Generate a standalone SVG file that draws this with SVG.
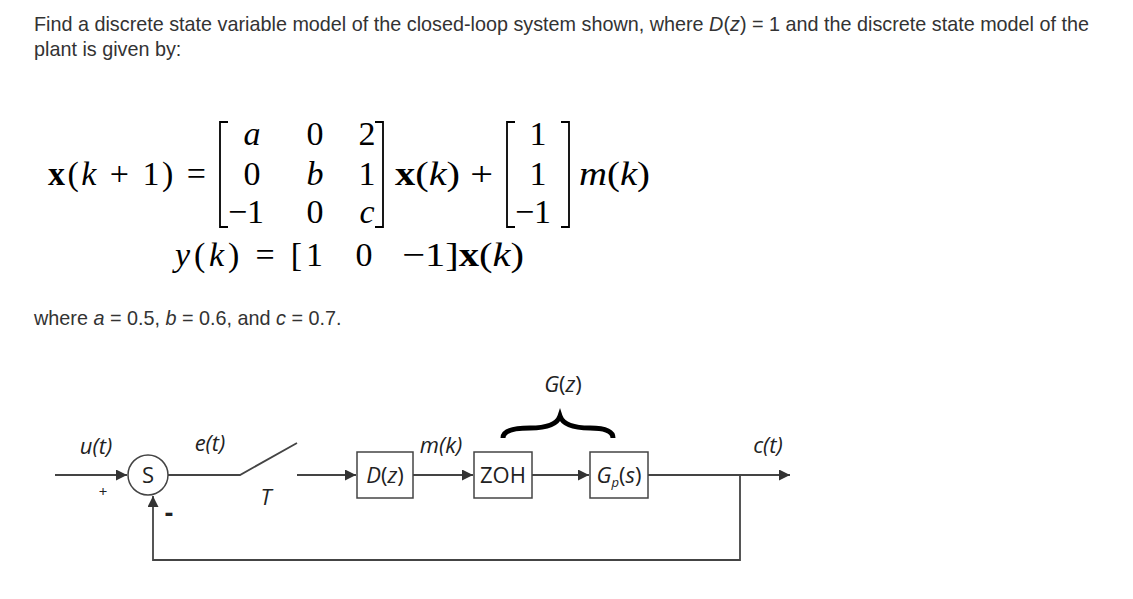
<svg xmlns="http://www.w3.org/2000/svg" width="1133" height="599" viewBox="0 0 1133 599">
<defs>
<marker id="ah" viewBox="0 0 10 10" refX="10" refY="5" markerWidth="11" markerHeight="11" markerUnits="userSpaceOnUse" orient="auto"><path d="M0,0 L10,5 L0,10 z" fill="#333"/></marker>
<style>
.p{font-family:"Liberation Sans",Arial,sans-serif;font-size:19.8px;fill:#333}
.m{font-family:"Liberation Serif","DejaVu Serif",serif;font-size:34px;fill:#000}
.i{font-style:italic}
.d{font-family:"Open Sans","Liberation Sans",sans-serif;font-size:22px;fill:#222}
.b{fill:#fff;stroke:#444;stroke-width:1.5}
.l{fill:none;stroke:#444;stroke-width:1.8}
.br{fill:none;stroke:#000;stroke-width:1.8}
</style>
</defs>
<rect width="1133" height="599" fill="#fff"/>
<text class="p" x="34" y="31">Find a discrete state variable model of the closed-loop system shown, where <tspan class="i">D</tspan>(<tspan class="i">z</tspan>) = 1 and the discrete state model of the</text>
<text class="p" x="34" y="56">plant is given by:</text>
<text class="p" x="34" y="325">where <tspan class="i">a</tspan> = 0.5, <tspan class="i">b</tspan> = 0.6, and <tspan class="i">c</tspan> = 0.7.</text>
<g id="equation">
<text class="m" x="48" y="185" textLength="158" lengthAdjust="spacing"><tspan font-weight="bold">x</tspan>(<tspan class="i">k</tspan> + 1) =</text>
<path class="br" d="M228,122 h-8 v105 h8 M375,122 h8 v105 h-8"/>
<text class="m" text-anchor="middle"><tspan class="i" x="252" y="145">a</tspan><tspan x="315" y="145">0</tspan><tspan x="367" y="145">2</tspan><tspan x="252" y="185">0</tspan><tspan class="i" x="315" y="185">b</tspan><tspan x="367" y="185">1</tspan><tspan x="246" y="223">−1</tspan><tspan x="315" y="223">0</tspan><tspan class="i" x="367" y="223">c</tspan></text>
<text class="m" x="395" y="185" textLength="98" lengthAdjust="spacingAndGlyphs"><tspan font-weight="bold">x</tspan>(<tspan class="i">k</tspan>) +</text>
<path class="br" d="M515,122 h-8 v105 h8 M561,122 h8 v105 h-8"/>
<text class="m" text-anchor="middle"><tspan x="538" y="145">1</tspan><tspan x="538" y="185">1</tspan><tspan x="533" y="223">−1</tspan></text>
<text class="m" x="579" y="185" textLength="71" lengthAdjust="spacingAndGlyphs"><tspan class="i">m</tspan>(<tspan class="i">k</tspan>)</text>
<text class="m" x="175" y="266" textLength="148" lengthAdjust="spacing"><tspan class="i">y</tspan>(<tspan class="i">k</tspan>) = [1</text>
<text class="m" x="364" y="266" text-anchor="middle">0</text>
<text class="m" x="402" y="266" textLength="122" lengthAdjust="spacingAndGlyphs">−1]<tspan font-weight="bold">x</tspan>(<tspan class="i">k</tspan>)</text>
</g>
<g id="connectors">
<line class="l" x1="55" y1="475" x2="127" y2="475" marker-end="url(#ah)"/>
<polyline class="l" points="168,475 240,475 297,443"/>
<line class="l" x1="297" y1="475" x2="356" y2="475" marker-end="url(#ah)"/>
<line class="l" x1="413" y1="475" x2="473" y2="475" marker-end="url(#ah)"/>
<line class="l" x1="532" y1="475" x2="589" y2="475" marker-end="url(#ah)"/>
<line class="l" x1="648" y1="475" x2="790" y2="475" marker-end="url(#ah)"/>
<polyline class="l" points="740,475 740,560 153,560 153,496" marker-end="url(#ah)"/>
</g>
<g id="sum"><circle class="b" cx="148" cy="475" r="20"/><text class="d" x="148" y="483" text-anchor="middle">S</text>
<text class="d" x="103" y="497" text-anchor="middle" style="font-size:15px">+</text><text class="d" x="169" y="522" text-anchor="middle" font-weight="bold" style="font-size:26px">-</text></g>
<g id="labels">
<text class="d i" x="96" y="454" text-anchor="middle">u(t)</text>
<text class="d i" x="210" y="451" text-anchor="middle">e(t)</text>
<text class="d i" x="266" y="505" text-anchor="middle">T</text>
<text class="d i" x="441" y="453" text-anchor="middle">m(k)</text>
<text class="d i" x="768" y="453" text-anchor="middle">c(t)</text>
<text class="d" x="563" y="392" text-anchor="middle"><tspan class="i">G</tspan>(<tspan class="i">z</tspan>)</text>
</g>
<g id="dz"><rect class="b" x="357" y="452" width="56" height="46"/><text class="d" x="385" y="483" text-anchor="middle"><tspan class="i">D</tspan>(<tspan class="i">z</tspan>)</text></g>
<g id="zoh"><rect class="b" x="474" y="452" width="58" height="46"/><text class="d" x="503" y="483" text-anchor="middle">ZOH</text></g>
<g id="gp"><rect class="b" x="590" y="452" width="58" height="46"/><text class="d" x="619" y="483" text-anchor="middle"><tspan class="i">G</tspan><tspan class="i" style="font-size:13px" dy="4">p</tspan><tspan dy="-4">(</tspan><tspan class="i">s</tspan>)</text></g>
<g id="brace"><path d="M503,438 Q503,428 530,428 Q556,428 560,416 Q564,428 590,428 Q613,428 613,438" fill="none" stroke="#000" stroke-width="5"/></g>
</svg>
